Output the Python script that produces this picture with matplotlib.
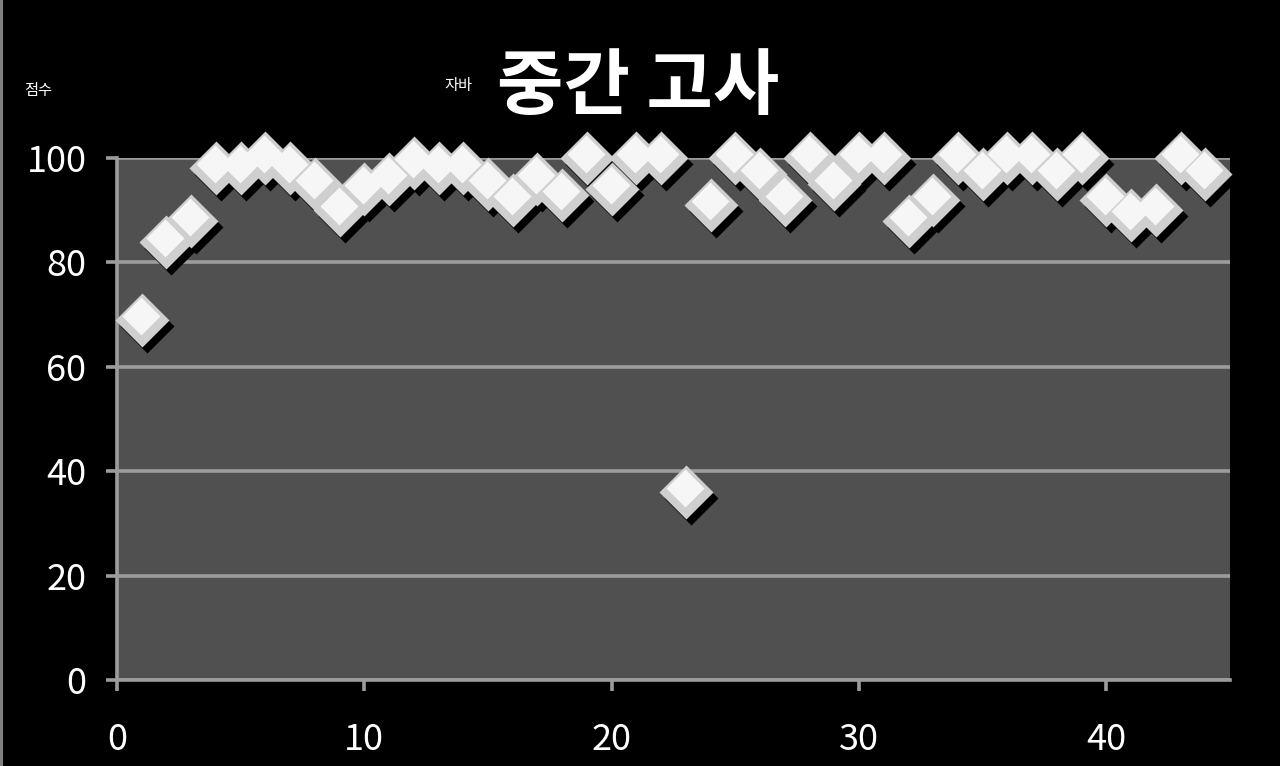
import matplotlib
matplotlib.use("Agg")
import matplotlib.pyplot as plt
import matplotlib.transforms as mtransforms
from matplotlib.lines import Line2D

plt.rcParams['font.family'] = ['Noto Sans CJK KR', 'DejaVu Sans']

# student number and midterm score
students = list(range(1, 45))
scores = [69, 84, 88, 98, 98, 100, 98, 95, 90, 94,
          96, 99, 98, 98, 95, 92, 96, 93, 100, 94,
          100, 100, 36, 91, 100, 97, 92, 100, 95, 100,
          100, 88, 92, 100, 97, 100, 100, 97, 100, 92,
          89, 90, 100, 97]
y_ticks = [0, 20, 40, 60, 80, 100]
x_ticks = [0, 10, 20, 30, 40]

fig = plt.figure(figsize=(12.8, 7.66), dpi=100, facecolor='black')
ax = fig.add_axes([0.0914, 0.1123, 0.8696, 0.6814])
ax.set_facecolor('#505050')

grid_col = '#9c9c9c'
ax.set_xlim(0, 45)
ax.set_ylim(0, 100)
ax.set_xticks(x_ticks)
ax.set_yticks(y_ticks)
ax.yaxis.grid(True, color=grid_col, linewidth=2.6)
ax.set_axisbelow(True)
for side in ['top', 'right']:
    ax.spines[side].set_visible(False)
for side in ['left', 'bottom']:
    ax.spines[side].set_color(grid_col)
    ax.spines[side].set_linewidth(2.6)
ax.tick_params(colors=grid_col, width=2.6, length=8, labelcolor='white',
               labelsize=26)
ax.tick_params(axis='x', pad=22)
ax.tick_params(axis='y', pad=14)

# shadow, body and highlight of each diamond
shadow = mtransforms.offset_copy(ax.transData, fig=fig, x=5, y=-6, units='dots')
hilite = mtransforms.offset_copy(ax.transData, fig=fig, x=-1, y=4, units='dots')
ax.plot(students, scores, 'D', ms=27, color='black', mec='none',
        transform=shadow, clip_on=False, zorder=3)
ax.plot(students, scores, 'D', ms=27, color='#cfcfcf', mec='none',
        clip_on=False, zorder=4)
ax.plot(students, scores, 'D', ms=19, color='#f6f6f6', mec='none',
        transform=hilite, clip_on=False, zorder=5)

fig.text(0.388, 0.885, '중간 고사', color='white', fontsize=52,
         fontweight='bold', va='center', ha='left')
fig.text(0.347, 0.888, '자바', color='white', fontsize=11, va='center')
fig.text(0.019, 0.882, '점수', color='white', fontsize=11, va='center')

fig.add_artist(Line2D([0.001, 0.001], [0, 1], color='#808080', linewidth=3,
                      transform=fig.transFigure))

fig.savefig('out.png', dpi=100, facecolor='black')
